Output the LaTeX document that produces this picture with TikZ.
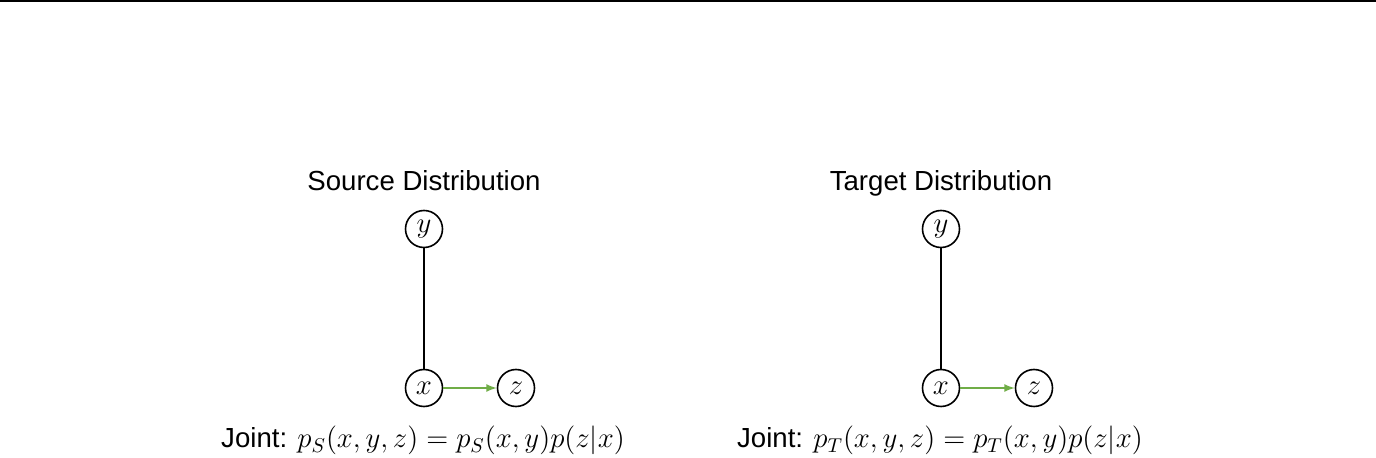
\documentclass[tikz,border=0pt]{standalone}
\usepackage{fontspec}
\setmainfont{Liberation Sans}
\definecolor{arrowgreen}{RGB}{112,173,71}
\tikzset{
  var/.style={circle, draw, line width=0.8pt, minimum size=18.5pt, inner sep=0pt, font=\fontsize{15.5}{17}\selectfont},
  lbl/.style={anchor=base, font=\fontsize{13.8}{16}\selectfont},
}
\begin{document}
\begin{tikzpicture}[x=0.5pt, y=-0.5pt, line width=0.8pt]
      \useasboundingbox (0,0) rectangle (1376,458);
      \draw [line width=1pt] (0,1.5) -- (1376,1.5);
      % source
      \node [lbl] (stitle) at (424,191) {Source Distribution};
      \node [var] (sy) at (424,229) {\(y\)};
      \node [var] (sx) at (424,388) {\(x\)};
      \node [var] (sz) at (516,388) {\(z\)};
      \node [lbl] (sjoint) at (423,448) {Joint: \(p_S(x,y,z) = p_S(x,y)p(z|x)\)};
      \draw (sy) -- (sx);
      \draw [>=latex, ->, arrowgreen] (sx) -- (sz);
      % target
      \node [lbl] (ttitle) at (941,191) {Target Distribution};
      \node [var] (ty) at (941,229) {\(y\)};
      \node [var] (tx) at (941,388) {\(x\)};
      \node [var] (tz) at (1034,388) {\(z\)};
      \node [lbl] (tjoint) at (940,448) {Joint: \(p_T(x,y,z) = p_T(x,y)p(z|x)\)};
      \draw (ty) -- (tx);
      \draw [>=latex, ->, arrowgreen] (tx) -- (tz);
    \end{tikzpicture}
\end{document}
